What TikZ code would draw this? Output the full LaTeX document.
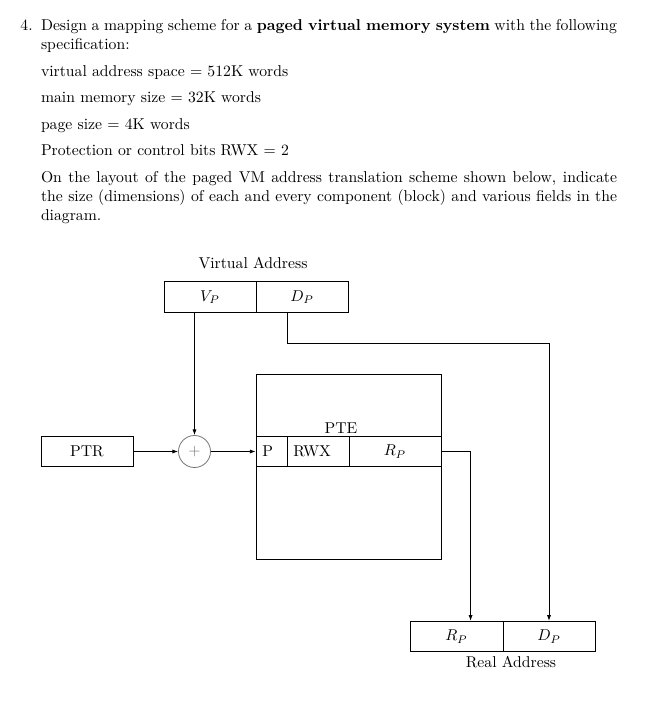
\documentclass[tikz,border=0pt]{standalone}
\usetikzlibrary{arrows.meta,calc}
\begin{document}
\begin{tikzpicture}[x=0.637pt,y=-0.637pt,
  txt/.style={inner sep=0pt, anchor=base west},
  lbl/.style={inner sep=0pt, anchor=base},
  fld/.style={draw, line width=0.6pt, minimum width=#1, minimum height=19.4pt, inner sep=0pt, anchor=center},
  lfld/.style={draw, line width=0.6pt, text width=#1-8pt, inner xsep=4pt, inner ysep=0pt, minimum height=19.4pt, align=left, anchor=center},
  arr/.style={line width=0.5pt, -{Latex[length=3.6pt,width=2.6pt]}},
  addr/.style={draw=black!55, text=black!55, circle, line width=0.5pt, minimum size=20.4pt, inner sep=0pt}]
\useasboundingbox (0,0) rectangle (666,727);

% ---- text ----
\node[inner sep=0pt, anchor=base east] (num) at (33,30.7) {4.};
\node[txt] (l1) at (40.7,30.7) {\hbox to 366.9pt{Design a mapping scheme for a \textbf{paged virtual memory system} with the following}};
\node[txt] (l2) at (40.7,50) {specification:};
\node[txt] (l3) at (40.7,76.7) {virtual address space $=$ 512K words};
\node[txt] (l4) at (40.7,102.7) {main memory size $=$ 32K words};
\node[txt] (l5) at (40.7,129.3) {page size $=$ 4K words};
\node[txt] (l6) at (40.7,156) {Protection or control bits RWX $=$ 2};
\node[txt] (l7) at (40.7,182.7) {\hbox to 366.9pt{On the layout of the paged VM address translation scheme shown below, indicate}};
\node[txt] (l8) at (40.7,201.7) {\hbox to 366.9pt{the size (dimensions) of each and every component (block) and various fields in the}};
\node[txt] (l9) at (40.7,220.7) {diagram.};

% ---- diagram ----
\node[lbl] (valbl) at (253,268) {Virtual Address};
\node[fld=58.6pt] (vp) at (210,297) {$V_P$};
\node[fld=58.6pt] (dp) at (302,297) {$D_P$};

\node[fld=58.6pt] (ptr) at (87,451.5) {PTR};
\node[addr] (adder) at (194.5,451.5) {$+$};

\node[draw, line width=0.6pt, minimum width=117.8pt, minimum height=117.8pt, inner sep=0pt] (ptable) at (348.5,466.5) {};
\node[lfld=19.75pt] (p) at (271.5,451.5) {P};
\node[lfld=39.5pt] (rwx) at (318,451.5) {RWX};
\node[fld=58.6pt] (rp) at (395,451.5) {$R_P$};
\node[lbl] (pte) at (341,433) {PTE};

\node[fld=59.2pt] (rrp) at (456.5,636.5) {$R_P$};
\node[fld=58.6pt] (rdp) at (549,636.5) {$D_P$};
\node[lbl] (ralbl) at (511,667) {Real Address};

\coordinate (dpout) at ($(dp.south)+(-15,0)$);
\coordinate (rpin) at ($(rrp.north west)+(61,0)$);

\draw[arr] (vp.south -| adder.north) -- (adder.north);
\draw[arr] (ptr.east) -- (adder.west);
\draw[arr] (adder.east) -- (p.west);
\draw[arr] (dpout) -- ++(0,31) -| (rdp.north);
\draw[arr] (rp.east) -| (rpin);
\end{tikzpicture}
\end{document}
